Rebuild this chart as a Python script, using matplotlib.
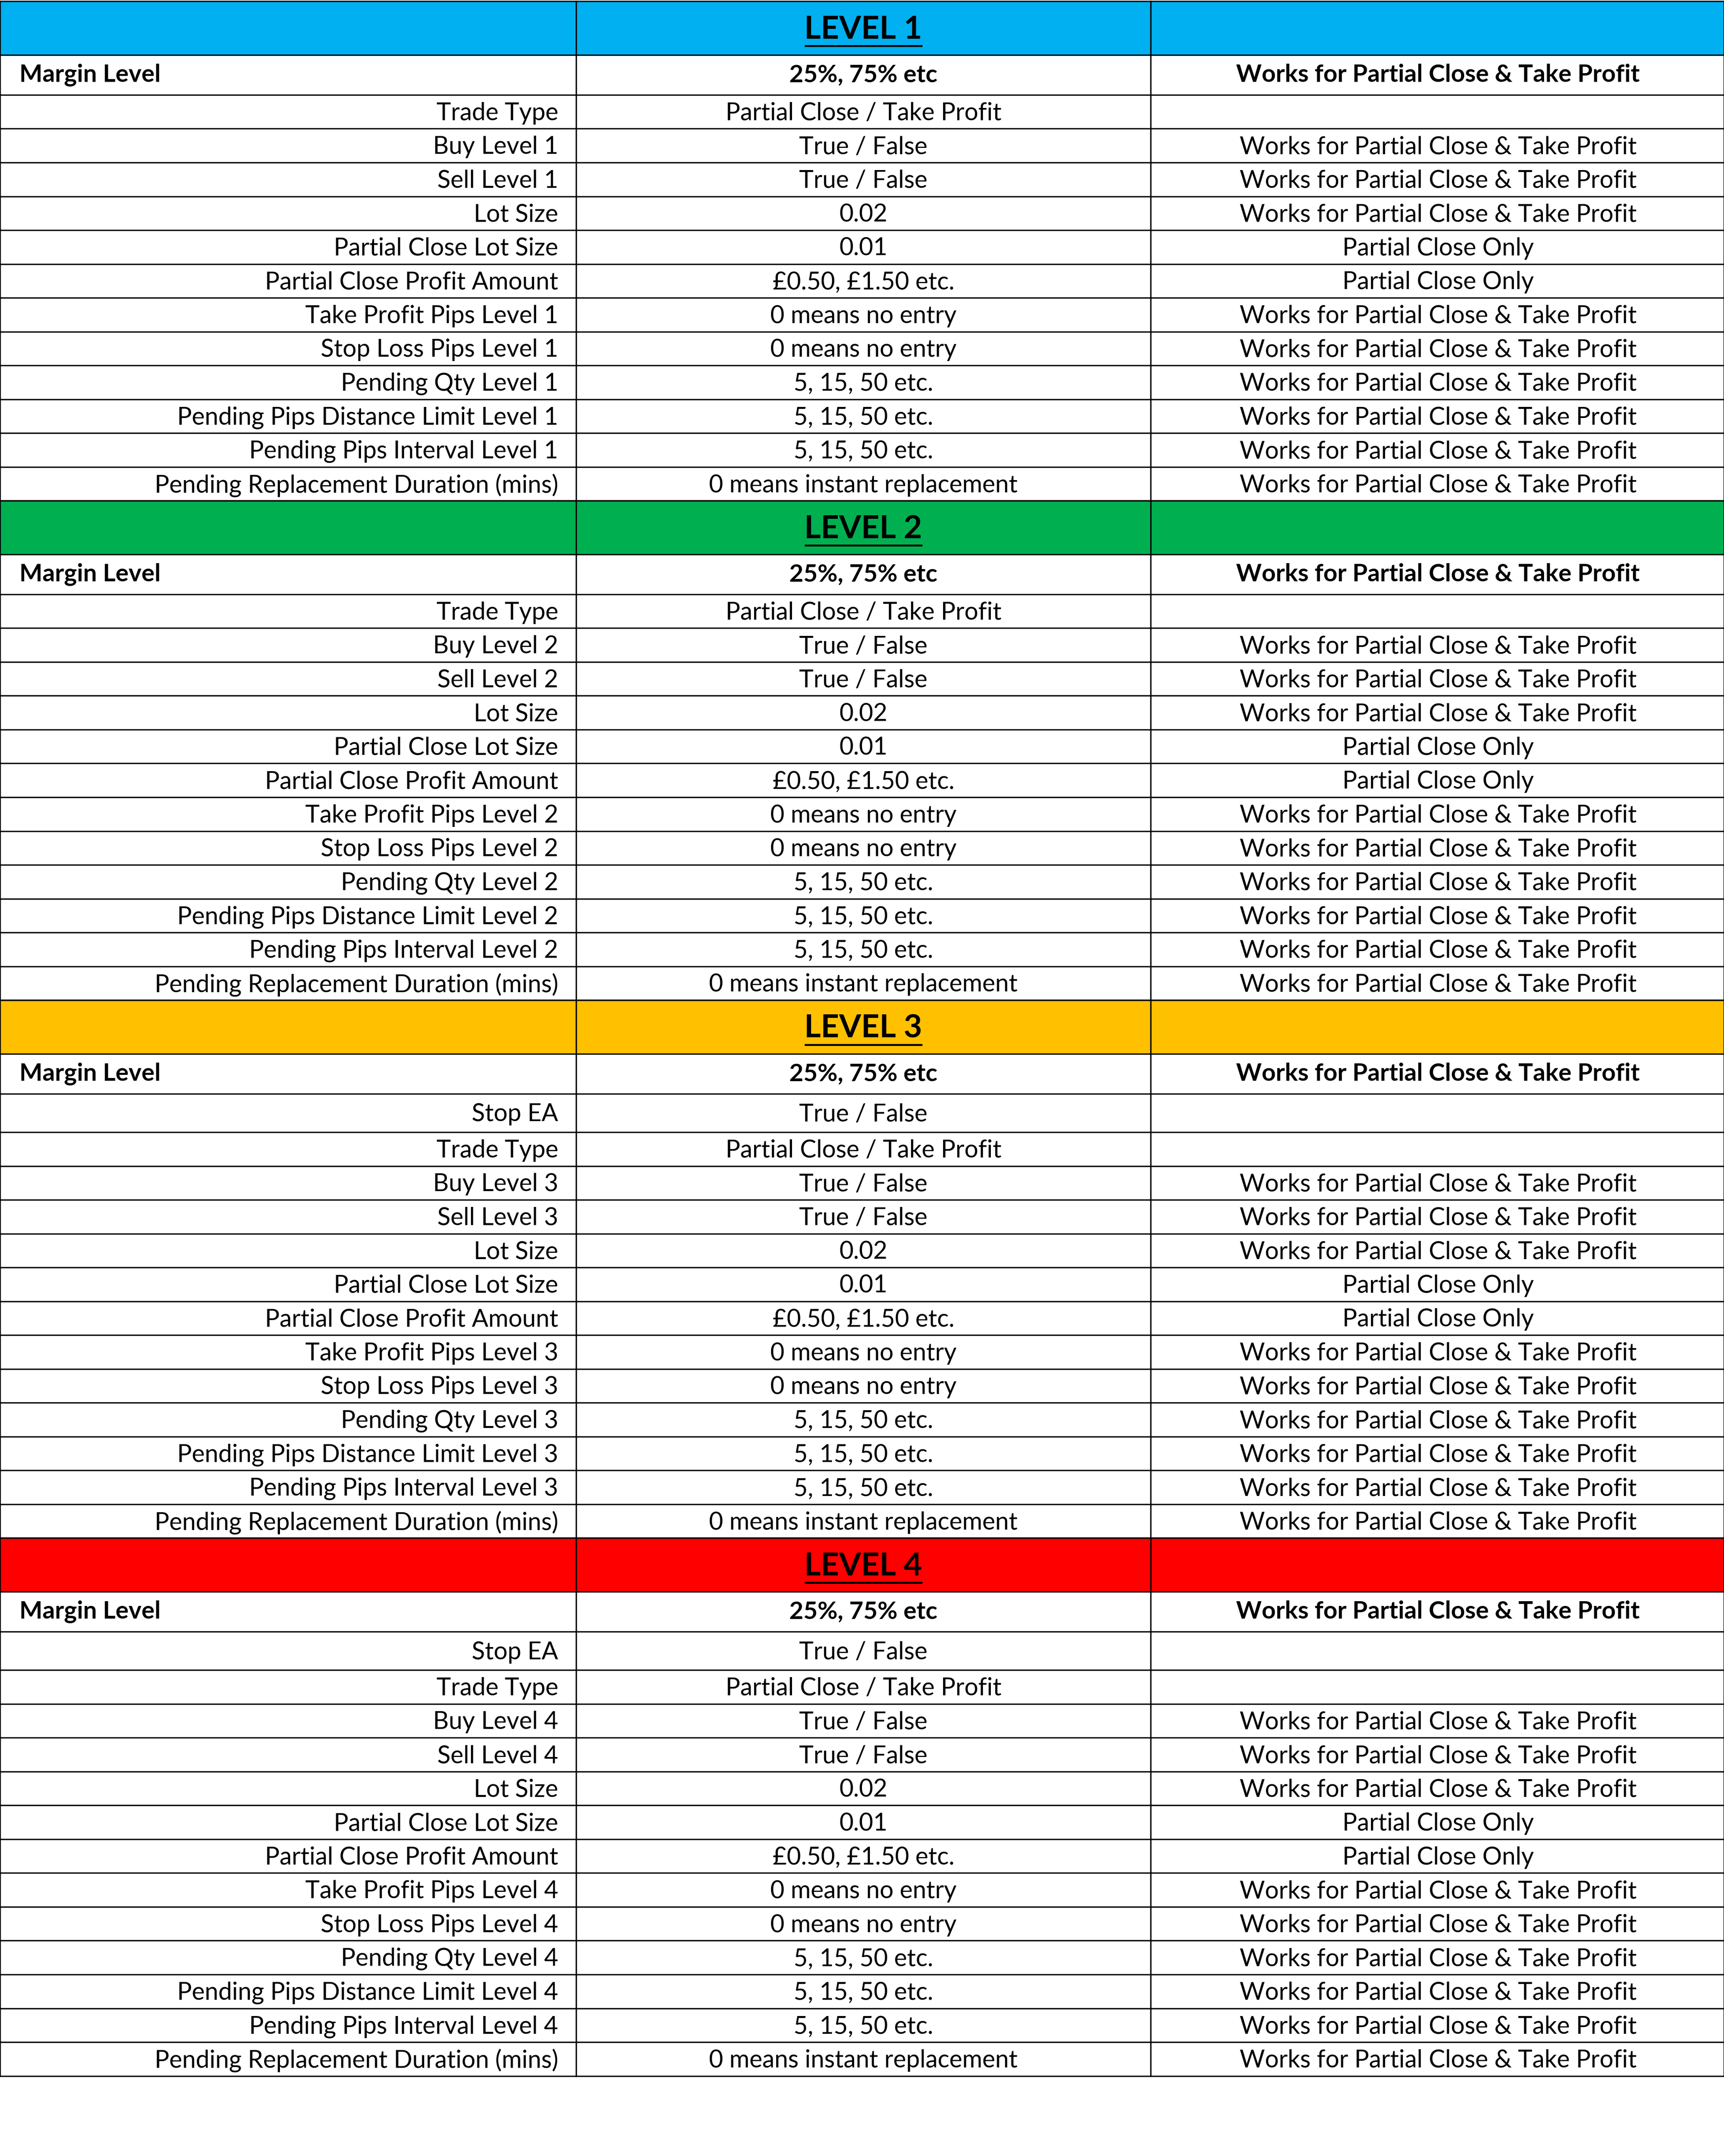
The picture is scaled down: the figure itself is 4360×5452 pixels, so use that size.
import matplotlib
matplotlib.use("Agg")
import matplotlib.pyplot as plt
from matplotlib.patches import Rectangle

levels = ["LEVEL 1", "LEVEL 2", "LEVEL 3", "LEVEL 4"]
level_colors = ["#00B0F0", "#00B050", "#FFC000", "#FF0000"]
has_stop_ea = [False, False, True, True]
margin_row = ["Margin Level", "25%, 75% etc", "Works for Partial Close & Take Profit"]
stop_row = ["Stop EA", "True / False", ""]
WB = "Works for Partial Close & Take Profit"
PC = "Partial Close Only"
param_names = ["Trade Type", "Buy Level {n}", "Sell Level {n}", "Lot Size", "Partial Close Lot Size",
               "Partial Close Profit Amount", "Take Profit Pips Level {n}", "Stop Loss Pips Level {n}",
               "Pending Qty Level {n}", "Pending Pips Distance Limit Level {n}",
               "Pending Pips Interval Level {n}", "Pending Replacement Duration (mins)"]
param_values = ["Partial Close / Take Profit", "True / False", "True / False", "0.02", "0.01",
                "£0.50, £1.50 etc.", "0 means no entry", "0 means no entry", "5, 15, 50 etc.",
                "5, 15, 50 etc.", "5, 15, 50 etc.", "0 means instant replacement"]
param_notes = ["", WB, WB, WB, PC, PC, WB, WB, WB, WB, WB, WB]

W, H = 1254, 1568
fig = plt.figure(figsize=(43.6, 54.52), dpi=100)
ax = fig.add_axes([0, 0, 1, 1])
ax.set_xlim(0, W); ax.set_ylim(H, 0); ax.axis("off")
FONT = "Lato"; FS = 44.5
cols = [0, 419, 837, 1254]
lw = 2.5

def hline(y):
    ax.plot([0, W], [y, y], color="black", lw=lw)

def cell_lines(y0, y1):
    for x in cols:
        ax.plot([x, x], [y0, y1], color="black", lw=lw)

y = 1
for i, lev in enumerate(levels):
    h = 39
    ax.add_patch(Rectangle((0, y), W, h, color=level_colors[i], zorder=0))
    ax.text(628, y + h / 2 + 1, lev, ha="center", va="center", fontsize=FS * 1.3,
            fontweight="bold", family=FONT)
    ax.plot([586, 670], [y + h / 2 + 13, y + h / 2 + 13], color="black", lw=3.5)
    cell_lines(y, y + h); hline(y); y += h; hline(y)
    h = 29
    ax.text(14, y + h / 2, margin_row[0], ha="left", va="center", fontsize=FS, fontweight="bold", family=FONT)
    ax.text(628, y + h / 2, margin_row[1], ha="center", va="center", fontsize=FS, fontweight="bold", family=FONT)
    ax.text(1046, y + h / 2, margin_row[2], ha="center", va="center", fontsize=FS, fontweight="bold", family=FONT)
    cell_lines(y, y + h); y += h; hline(y)
    rows = []
    if has_stop_ea[i]:
        rows.append((stop_row, 28))
    for nm, v, nt in zip(param_names, param_values, param_notes):
        rows.append(([nm.format(n=i + 1), v, nt], 24.6))
    for (r, h) in rows:
        yc = y + h / 2 + 1
        ax.text(406, yc, r[0], ha="right", va="center", fontsize=FS, family=FONT)
        ax.text(628, yc, r[1], ha="center", va="center", fontsize=FS, family=FONT)
        ax.text(1046, yc, r[2], ha="center", va="center", fontsize=FS, family=FONT)
        cell_lines(y, y + h); y += h; hline(y)

fig.savefig("out.png", dpi=100, facecolor="white")
